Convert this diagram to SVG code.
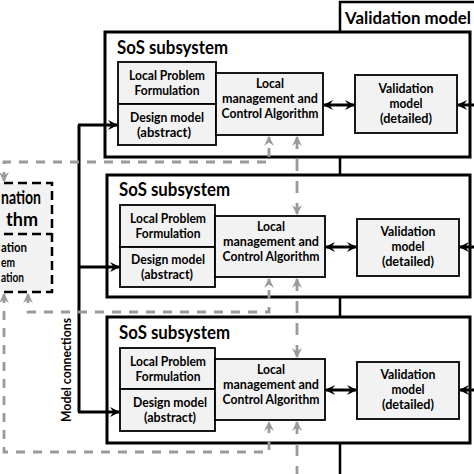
<svg xmlns="http://www.w3.org/2000/svg" width="474" height="474" viewBox="0 0 474 474">
<defs>
<marker id="ab" viewBox="0 0 10 10" refX="9" refY="5" markerWidth="10" markerHeight="10" markerUnits="userSpaceOnUse" orient="auto-start-reverse">
<path d="M0,0 L10,5 L0,10 L3.5,5 z" fill="#000"/>
</marker>
<marker id="ag" viewBox="0 0 10 10" refX="9" refY="5" markerWidth="10" markerHeight="10" markerUnits="userSpaceOnUse" orient="auto-start-reverse">
<path d="M0,0 L10,5 L0,10 L3.5,5 z" fill="#9a9a9a"/>
</marker>
</defs>
<style>
.t{font-family:Lato,"Liberation Sans",Arial,sans-serif;font-weight:bold;fill:#000}
.s{font-size:13px;text-anchor:middle}
.h{font-size:18px}
.sos{fill:#fff;stroke:#000;stroke-width:3}
.in{fill:#f2f2f2;stroke:#000;stroke-width:1.8}
.dbl{fill:none;stroke:#000;stroke-width:3;marker-start:url(#ab);marker-end:url(#ab)}
.rin{fill:none;stroke:#000;stroke-width:3;marker-end:url(#ab)}
.g{fill:none;stroke:#9a9a9a;stroke-width:2.8;stroke-dasharray:9 8}
.gv{fill:none;stroke:#9a9a9a;stroke-width:2.8;stroke-dasharray:12 10}
</style>

<g id="validation-frame">
<path d="M340,474 V2 H474" fill="none" stroke="#000" stroke-width="2.5"/>
<text class="t" x="345" y="24" font-size="17" textLength="126" lengthAdjust="spacingAndGlyphs">Validation model</text>
</g>

<g id="coordination">
<rect x="-10" y="183" width="62" height="109" fill="#f2f2f2" stroke="#000" stroke-width="2.5" stroke-dasharray="9 5"/>
<line x1="-10" y1="234" x2="52" y2="234" stroke="#000" stroke-width="2.5" stroke-dasharray="9 5"/>
<text class="t" x="1" y="204" font-size="18" textLength="40" lengthAdjust="spacingAndGlyphs">nation</text>
<text class="t" x="38" y="226" font-size="18" text-anchor="end">thm</text>
<text class="t" x="1" y="252" font-size="13" textLength="26" lengthAdjust="spacingAndGlyphs">ation</text>
<text class="t" x="1" y="267" font-size="13" textLength="14" lengthAdjust="spacingAndGlyphs">em</text>
<text class="t" x="1" y="282" font-size="13" textLength="23" lengthAdjust="spacingAndGlyphs">ation</text>
</g>

<g id="sos1">
<rect class="sos" x="105" y="32" width="365" height="125"/>
<text class="t h" x="117" y="54" textLength="111" lengthAdjust="spacingAndGlyphs">SoS subsystem</text>
<rect class="in" x="118" y="62" width="98" height="42"/>
<text class="t s" x="167" y="80" textLength="76" lengthAdjust="spacingAndGlyphs">Local Problem</text>
<text class="t s" x="167" y="95" textLength="65" lengthAdjust="spacingAndGlyphs">Formulation</text>
<rect class="in" x="118" y="104" width="98" height="41"/>
<text class="t s" x="167" y="122" textLength="74" lengthAdjust="spacingAndGlyphs">Design model</text>
<text class="t s" x="164" y="137" textLength="54" lengthAdjust="spacingAndGlyphs">(abstract)</text>
<rect class="in" x="216" y="73" width="107" height="62"/>
<text class="t s" x="270" y="88" textLength="28" lengthAdjust="spacingAndGlyphs">Local</text>
<text class="t s" x="270" y="103" textLength="96" lengthAdjust="spacingAndGlyphs">management and</text>
<text class="t s" x="270" y="118" textLength="97" lengthAdjust="spacingAndGlyphs">Control Algorithm</text>
<rect class="in" x="355" y="75" width="102" height="58"/>
<text class="t s" x="406" y="93" textLength="55" lengthAdjust="spacingAndGlyphs">Validation</text>
<text class="t s" x="406" y="108" textLength="33" lengthAdjust="spacingAndGlyphs">model</text>
<text class="t s" x="406" y="123" textLength="52" lengthAdjust="spacingAndGlyphs">(detailed)</text>
</g>

<g id="sos2">
<rect class="sos" x="107" y="175" width="363" height="122"/>
<text class="t h" x="119" y="196" textLength="111" lengthAdjust="spacingAndGlyphs">SoS subsystem</text>
<rect class="in" x="120" y="205" width="95" height="42"/>
<text class="t s" x="168" y="223" textLength="76" lengthAdjust="spacingAndGlyphs">Local Problem</text>
<text class="t s" x="168" y="238" textLength="65" lengthAdjust="spacingAndGlyphs">Formulation</text>
<rect class="in" x="120" y="247" width="95" height="40"/>
<text class="t s" x="168" y="264" textLength="74" lengthAdjust="spacingAndGlyphs">Design model</text>
<text class="t s" x="167" y="279" textLength="52" lengthAdjust="spacingAndGlyphs">(abstract)</text>
<rect class="in" x="215" y="216" width="110" height="61"/>
<text class="t s" x="271" y="231" textLength="28" lengthAdjust="spacingAndGlyphs">Local</text>
<text class="t s" x="271" y="246" textLength="96" lengthAdjust="spacingAndGlyphs">management and</text>
<text class="t s" x="271" y="261" textLength="97" lengthAdjust="spacingAndGlyphs">Control Algorithm</text>
<rect class="in" x="357" y="219" width="102" height="57"/>
<text class="t s" x="408" y="236" textLength="55" lengthAdjust="spacingAndGlyphs">Validation</text>
<text class="t s" x="408" y="251" textLength="33" lengthAdjust="spacingAndGlyphs">model</text>
<text class="t s" x="408" y="266" textLength="52" lengthAdjust="spacingAndGlyphs">(detailed)</text>
</g>

<g id="sos3">
<rect class="sos" x="107" y="317" width="363" height="126"/>
<text class="t h" x="119" y="339" textLength="111" lengthAdjust="spacingAndGlyphs">SoS subsystem</text>
<rect class="in" x="120" y="348" width="95" height="41"/>
<text class="t s" x="168" y="366" textLength="76" lengthAdjust="spacingAndGlyphs">Local Problem</text>
<text class="t s" x="168" y="381" textLength="65" lengthAdjust="spacingAndGlyphs">Formulation</text>
<rect class="in" x="120" y="389" width="95" height="42"/>
<text class="t s" x="170" y="407" textLength="74" lengthAdjust="spacingAndGlyphs">Design model</text>
<text class="t s" x="170" y="422" textLength="52" lengthAdjust="spacingAndGlyphs">(abstract)</text>
<rect class="in" x="215" y="359" width="110" height="61"/>
<text class="t s" x="271" y="374" textLength="28" lengthAdjust="spacingAndGlyphs">Local</text>
<text class="t s" x="271" y="389" textLength="96" lengthAdjust="spacingAndGlyphs">management and</text>
<text class="t s" x="271" y="404" textLength="97" lengthAdjust="spacingAndGlyphs">Control Algorithm</text>
<rect class="in" x="357" y="362" width="102" height="57"/>
<text class="t s" x="408" y="379" textLength="55" lengthAdjust="spacingAndGlyphs">Validation</text>
<text class="t s" x="408" y="394" textLength="33" lengthAdjust="spacingAndGlyphs">model</text>
<text class="t s" x="408" y="409" textLength="52" lengthAdjust="spacingAndGlyphs">(detailed)</text>
</g>

<g id="connectors">
<path class="dbl" d="M324,105 H354"/>
<path class="dbl" d="M326,247 H356"/>
<path class="dbl" d="M326,390 H356"/>
<path class="rin" d="M476,105 H458"/>
<path class="rin" d="M476,247 H460"/>
<path class="rin" d="M476,390 H460"/>
<path d="M79,125 V412" fill="none" stroke="#000" stroke-width="3"/>
<path class="rin" d="M78,125 H117"/>
<path class="rin" d="M79,267 H119"/>
<path class="rin" d="M78,412 H119"/>
<text class="t" transform="translate(71,370) rotate(-90)" font-size="14" text-anchor="middle" textLength="104" lengthAdjust="spacingAndGlyphs">Model connections</text>
<path class="g" d="M4,181 V162 H269 V137" marker-start="url(#ag)" marker-end="url(#ag)"/>
<path class="g" d="M28,294 V312 H269 V279" marker-start="url(#ag)" marker-end="url(#ag)"/>
<path class="g" d="M4,294 V452 H269 V422" marker-start="url(#ag)" marker-end="url(#ag)"/>
<path class="gv" d="M297,137 V214" marker-start="url(#ag)" marker-end="url(#ag)"/>
<path class="gv" d="M297,279 V357" marker-start="url(#ag)" marker-end="url(#ag)"/>
<path class="gv" d="M297,422 V474" stroke-dasharray="4 5" marker-start="url(#ag)"/>
</g>
</svg>
